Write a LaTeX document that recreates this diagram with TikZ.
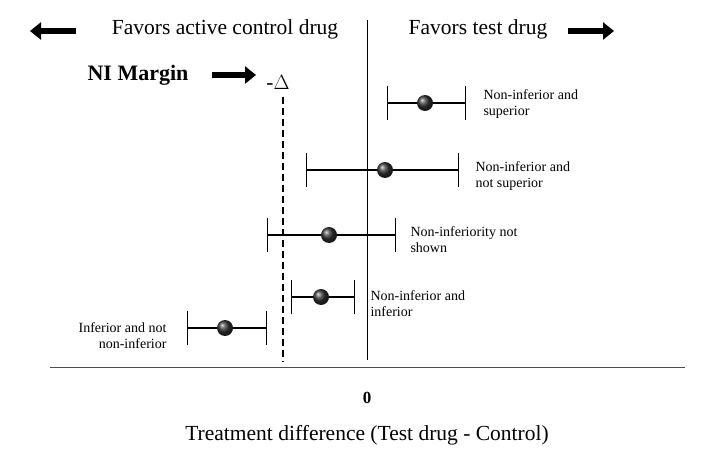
\documentclass[tikz,border=0pt]{standalone}
\usepackage{fontspec}
\setmainfont{Liberation Serif}
\usetikzlibrary{arrows.meta}
\begin{document}
\begin{tikzpicture}[x=1pt,y=-1pt,
  ci/.style={line width=1.6pt},
  endbar/.style={line width=0.8pt},
  dot/.style={circle,minimum size=16pt,inner sep=0pt,ball color=black!80},
  lab/.style={font=\fontsize{14}{16}\selectfont,align=left,anchor=west},
  big/.style={font=\fontsize{21.5}{24}\selectfont},
  fat/.style={line width=6pt,-{Triangle[length=11pt,width=17pt]}}]
\useasboundingbox (0,0) rectangle (727,465);
% top
\coordinate (la1) at (76,31); \coordinate (la2) at (30,31);
\coordinate (ra1) at (568,31); \coordinate (ra2) at (614,31);
\draw[fat] (la1) -- (la2);
\draw[fat] (ra1) -- (ra2);
\node[big] (fa) at (225,29) {Favors active control drug};
\node[big] (ft) at (478,29) {Favors test drug};
\node[font=\fontsize{22}{24}\selectfont\bfseries] (ni) at (138,75) {NI Margin};
\coordinate (na1) at (212,75); \coordinate (na2) at (256,75);
\draw[fat] (na1) -- (na2);
\node[big] (delta) at (278,82) {-$\Delta$};
% lines
\coordinate (v1) at (367,20); \coordinate (v2) at (367,360);
\draw[line width=0.7pt] (v1) -- (v2);
\coordinate (d1) at (283,97); \coordinate (d2) at (283,362);
\draw[line width=2pt,dash pattern=on 7pt off 4pt] (d1) -- (d2);
\coordinate (h1) at (50,367); \coordinate (h2) at (685,367);
\draw[line width=0.6pt,black!70] (h1) -- (h2);
\node[font=\fontsize{17}{18}\selectfont\bfseries] (zero) at (367,398) {0};
\node[big] (xl) at (367,435) {Treatment difference (Test drug - Control)};
% CIs
\foreach \n/\y/\a/\b/\m in {1/103/387/465/425, 2/170/306/458/385, 3/235/267/395/329, 4/297/291/354/321, 5/328/187/266/225}{
  \coordinate (l\n) at (\a,\y); \coordinate (r\n) at (\b,\y);
  \draw[ci] (l\n) -- (r\n);
  \draw[endbar] ([yshift=-17pt]l\n) -- ([yshift=17pt]l\n);
  \draw[endbar] ([yshift=-17pt]r\n) -- ([yshift=17pt]r\n);
  \node[dot] (m\n) at (\m,\y) {};
}
\node[lab] (t1) at (480,104) {Non-inferior and\\superior};
\node[lab] (t2) at (472,176) {Non-inferior and\\not superior};
\node[lab] (t3) at (407,240) {Non-inferiority not\\shown};
\node[lab] (t4) at (367,304) {Non-inferior and\\inferior};
\node[lab,anchor=east,align=right] (t5) at (170,336) {Inferior and not\\non-inferior};
\end{tikzpicture}
\end{document}
